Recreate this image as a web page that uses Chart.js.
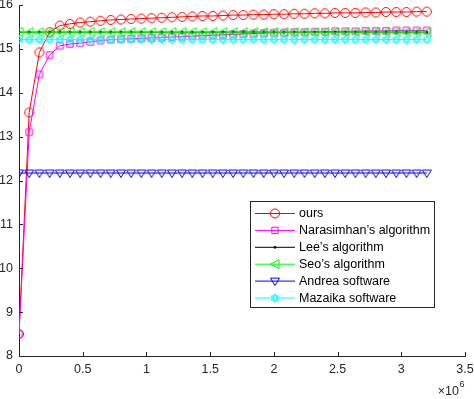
<!DOCTYPE html>
<html>
<head>
<meta charset="utf-8">
<script src="https://cdn.jsdelivr.net/npm/chart.js@4/dist/chart.umd.min.js"></script>
<style>
  html, body { margin: 0; padding: 0; background: #fff; }
  #wrap { width: 474px; height: 399px; position: relative; }
</style>
</head>
<body>
<div id="wrap"><canvas id="chart"></canvas></div>
<script>
const iterations = [
  0, 80000, 160000, 240000, 320000, 400000, 480000, 560000, 640000, 720000,
  800000, 880000, 960000, 1040000, 1120000, 1200000, 1280000, 1360000, 1440000, 1520000,
  1600000, 1680000, 1760000, 1840000, 1920000, 2000000, 2080000, 2160000, 2240000, 2320000,
  2400000, 2480000, 2560000, 2640000, 2720000, 2800000, 2880000, 2960000, 3040000, 3120000,
  3200000
];

const ours = [
  8.5, 13.55, 14.92, 15.38, 15.53, 15.57, 15.60, 15.62, 15.64, 15.66,
  15.67, 15.68, 15.69, 15.70, 15.71, 15.72, 15.73, 15.74, 15.75, 15.75,
  15.76, 15.77, 15.77, 15.78, 15.78, 15.79, 15.79, 15.80, 15.80, 15.81,
  15.81, 15.82, 15.82, 15.82, 15.83, 15.83, 15.84, 15.84, 15.84, 15.85,
  15.85
];

const narasimhan = [
  8.5, 13.1, 14.42, 14.86, 15.07, 15.11, 15.13, 15.16, 15.19, 15.21,
  15.22, 15.23, 15.24, 15.25, 15.26, 15.27, 15.28, 15.29, 15.30, 15.31,
  15.32, 15.33, 15.34, 15.35, 15.36, 15.37, 15.37, 15.38, 15.38, 15.39,
  15.39, 15.40, 15.40, 15.40, 15.41, 15.41, 15.41, 15.42, 15.42, 15.42,
  15.42
];

const lee = [
  15.38, 15.38, 15.38, 15.38, 15.38, 15.38, 15.38, 15.38, 15.38, 15.38,
  15.38, 15.38, 15.38, 15.38, 15.38, 15.38, 15.38, 15.38, 15.38, 15.38,
  15.38, 15.38, 15.38, 15.38, 15.38, 15.38, 15.38, 15.38, 15.38, 15.38,
  15.38, 15.38, 15.38, 15.38, 15.38, 15.38, 15.38, 15.38, 15.38, 15.38,
  15.38
];

const seo = [
  15.38, 15.38, 15.38, 15.38, 15.38, 15.38, 15.38, 15.38, 15.38, 15.38,
  15.38, 15.38, 15.38, 15.38, 15.38, 15.38, 15.38, 15.38, 15.38, 15.38,
  15.38, 15.38, 15.38, 15.38, 15.38, 15.38, 15.38, 15.38, 15.38, 15.38,
  15.38, 15.38, 15.38, 15.38, 15.38, 15.38, 15.38, 15.38, 15.38, 15.38,
  15.38
];

const andrea = [
  12.17, 12.17, 12.17, 12.17, 12.17, 12.17, 12.17, 12.17, 12.17, 12.17,
  12.17, 12.17, 12.17, 12.17, 12.17, 12.17, 12.17, 12.17, 12.17, 12.17,
  12.17, 12.17, 12.17, 12.17, 12.17, 12.17, 12.17, 12.17, 12.17, 12.17,
  12.17, 12.17, 12.17, 12.17, 12.17, 12.17, 12.17, 12.17, 12.17, 12.17,
  12.17
];

const mazaika = [
  15.21, 15.21, 15.21, 15.21, 15.21, 15.21, 15.21, 15.21, 15.21, 15.21,
  15.21, 15.21, 15.21, 15.21, 15.21, 15.21, 15.21, 15.21, 15.21, 15.21,
  15.21, 15.21, 15.21, 15.21, 15.21, 15.21, 15.21, 15.21, 15.21, 15.21,
  15.21, 15.21, 15.21, 15.21, 15.21, 15.21, 15.21, 15.21, 15.21, 15.21,
  15.21
];

const seriesNames = [
  "ours",
  "Narasimhan\u2019s algorithm",
  "Lee\u2019s algorithm",
  "Seo\u2019s algorithm",
  "Andrea software",
  "Mazaika software"
];

const xTicks = [0, 500000, 1000000, 1500000, 2000000, 2500000, 3000000, 3500000];
const xTickLabels = ["0", "0.5", "1", "1.5", "2", "2.5", "3", "3.5"];
const yTicks = [8, 9, 10, 11, 12, 13, 14, 15, 16];

const axisColor = "#262626";
const fontFamily = "'Liberation Sans', Arial, Helvetica, sans-serif";

// marker drawing, shared by the plot and the legend
function drawMarker(ctx, kind, x, y, color) {
  ctx.save();
  ctx.strokeStyle = color;
  ctx.fillStyle = color;
  ctx.lineWidth = 1;
  ctx.beginPath();
  if (kind === "circle") {
    ctx.arc(x, y, 4.5, 0, Math.PI * 2);
    ctx.stroke();
  } else if (kind === "square") {
    ctx.rect(x - 3.2, y - 3.2, 6.4, 6.4);
    ctx.stroke();
  } else if (kind === "dot") {
    ctx.arc(x, y, 1.4, 0, Math.PI * 2);
    ctx.fill();
  } else if (kind === "triLeft") {
    ctx.moveTo(x - 4.5, y);
    ctx.lineTo(x + 4, y - 4.5);
    ctx.lineTo(x + 4, y + 4.5);
    ctx.closePath();
    ctx.stroke();
  } else if (kind === "triDown") {
    ctx.moveTo(x - 4.5, y - 3);
    ctx.lineTo(x + 4.5, y - 3);
    ctx.lineTo(x, y + 4.5);
    ctx.closePath();
    ctx.stroke();
  } else if (kind === "hexagram") {
    const r = 4.2;
    for (let k = 0; k < 2; k++) {
      const start = k === 0 ? -Math.PI / 2 : Math.PI / 2;
      for (let i = 0; i < 3; i++) {
        const a = start + i * (2 * Math.PI / 3);
        const px = x + r * Math.cos(a);
        const py = y + r * Math.sin(a);
        if (i === 0) ctx.moveTo(px, py); else ctx.lineTo(px, py);
      }
      ctx.closePath();
    }
    ctx.stroke();
  }
  ctx.restore();
}

function markerImage(kind, color) {
  const c = document.createElement("canvas");
  c.width = 14;
  c.height = 14;
  drawMarker(c.getContext("2d"), kind, 7, 7, color);
  return c;
}

const styles = [
  { color: "#ff0000", marker: "circle" },
  { color: "#ff00ff", marker: "square" },
  { color: "#000000", marker: "dot" },
  { color: "#00ff00", marker: "triLeft" },
  { color: "#0000ff", marker: "triDown" },
  { color: "#00ffff", marker: "hexagram" }
];

const seriesData = [ours, narasimhan, lee, seo, andrea, mazaika];

const datasets = seriesData.map((values, i) => ({
  label: seriesNames[i],
  data: values.map((v, j) => ({ x: iterations[j], y: v })),
  borderColor: styles[i].color,
  backgroundColor: "transparent",
  borderWidth: 1,
  pointStyle: markerImage(styles[i].marker, styles[i].color),
  pointRadius: 4,
  tension: 0,
  fill: false,
  order: seriesData.length - i
}));

const overlay = {
  id: "overlay",
  afterDraw(chart) {
    const { ctx, chartArea, scales } = chart;
    ctx.save();
    // inward ticks
    ctx.strokeStyle = axisColor;
    ctx.lineWidth = 1;
    ctx.beginPath();
    xTicks.forEach((v) => {
      const px = Math.round(scales.x.getPixelForValue(v)) + 0.5;
      ctx.moveTo(px, chartArea.bottom);
      ctx.lineTo(px, chartArea.bottom - 4);
    });
    yTicks.forEach((v) => {
      const py = Math.round(scales.y.getPixelForValue(v)) + 0.5;
      ctx.moveTo(chartArea.left, py);
      ctx.lineTo(chartArea.left + 4, py);
    });
    ctx.stroke();

    // exponent label
    ctx.fillStyle = axisColor;
    ctx.textBaseline = "alphabetic";
    ctx.textAlign = "right";
    ctx.font = "12.5px " + fontFamily;
    ctx.fillText("\u00d710", 459, 395);
    ctx.textAlign = "left";
    ctx.font = "9px " + fontFamily;
    ctx.fillText("6", 459.5, 387);

    // legend
    const box = { left: 250.5, top: 201.5, width: 184, height: 106 };
    ctx.fillStyle = "#ffffff";
    ctx.fillRect(box.left, box.top, box.width, box.height);
    ctx.strokeStyle = axisColor;
    ctx.strokeRect(box.left, box.top, box.width, box.height);
    ctx.font = "12.5px " + fontFamily;
    ctx.textBaseline = "middle";
    seriesNames.forEach((name, i) => {
      const y = 213.5 + i * 16.9;
      ctx.strokeStyle = styles[i].color;
      ctx.beginPath();
      ctx.moveTo(255, y);
      ctx.lineTo(295, y);
      ctx.stroke();
      drawMarker(ctx, styles[i].marker, 275, y, styles[i].color);
      ctx.fillStyle = "#000000";
      ctx.fillText(name, 299, y + 0.5);
    });
    ctx.restore();
  }
};

new Chart(document.getElementById("chart"), {
  type: "line",
  data: { datasets },
  options: {
    responsive: true,
    maintainAspectRatio: false,
    animation: false,
    layout: { padding: { top: 4, right: 9, left: 0, bottom: 0 } },
    plugins: {
      legend: { display: false },
      tooltip: { enabled: false }
    },
    scales: {
      x: {
        type: "linear",
        min: 0,
        max: 3500000,
        grid: { display: false, drawTicks: false },
        border: { display: true, color: axisColor, width: 1 },
        afterBuildTicks: (scale) => {
          scale.ticks = xTicks.map((v) => ({ value: v }));
        },
        afterFit: (scale) => {
          scale.height = 43;
          scale.paddingLeft = 0;
          scale.paddingRight = 0;
        },
        ticks: {
          padding: 6,
          maxRotation: 0,
          autoSkip: false,
          color: axisColor,
          font: { family: fontFamily, size: 12.5 },
          callback: (value) => {
            const k = xTicks.indexOf(value);
            return k >= 0 ? xTickLabels[k] : "";
          }
        }
      },
      y: {
        min: 8,
        max: 16,
        grid: { display: false, drawTicks: false },
        border: { display: true, color: axisColor, width: 1 },
        afterBuildTicks: (scale) => {
          scale.ticks = yTicks.map((v) => ({ value: v }));
        },
        afterFit: (scale) => {
          scale.width = 19;
          scale.paddingTop = 0;
          scale.paddingBottom = 0;
        },
        ticks: {
          padding: 6,
          autoSkip: false,
          color: axisColor,
          font: { family: fontFamily, size: 12.5 }
        }
      }
    }
  },
  plugins: [overlay]
});
</script>
</body>
</html>
